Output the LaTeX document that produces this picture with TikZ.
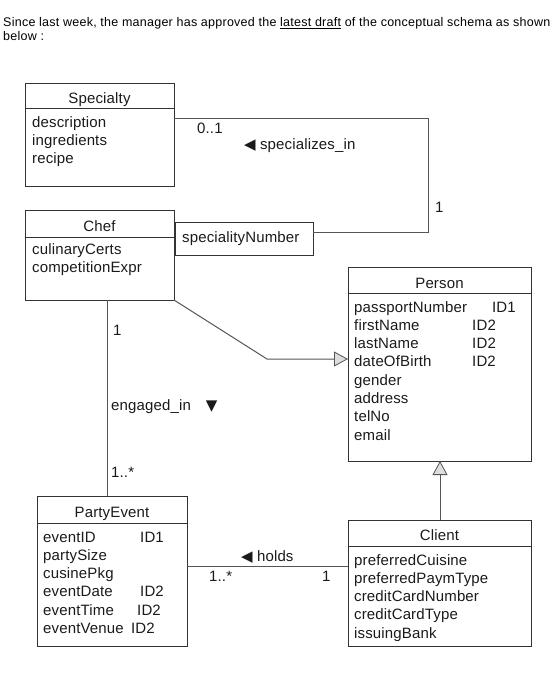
\documentclass[tikz,border=0pt]{standalone}
\usepackage{fontspec}
\setmainfont{Liberation Sans}
\newfontfamily\symfont{DejaVu Sans}
\usetikzlibrary{arrows.meta}
\definecolor{boxline}{HTML}{333333}
\definecolor{conline}{HTML}{555555}
\definecolor{txt}{HTML}{1A1A1A}
\definecolor{genfill}{HTML}{DDDDDD}
\newcommand{\sym}[1]{{\symfont\fontsize{15}{15}\selectfont #1}}
\newcommand{\dfont}{\fontsize{15}{18.3}\selectfont\addfontfeatures{LetterSpace=1}}
\begin{document}
\begin{tikzpicture}[x=1pt,y=-1pt,
  umlbox/.style={draw=boxline, line width=1pt, inner sep=0pt, outer sep=0pt, anchor=north west},
  divider/.style={draw=boxline, line width=1pt},
  ttl/.style={anchor=base, inner sep=0pt, font=\dfont, text=txt},
  attrs/.style={anchor=base west, inner sep=0pt, font=\dfont, text=txt},
  lbl/.style={anchor=base west, inner sep=0pt, font=\dfont, text=txt},
  assoc/.style={draw=conline, line width=1pt},
  gen/.style={draw=conline, line width=1pt, -{Triangle[fill=genfill, length=14pt, width=15pt, line width=0.8pt]}},
]
\useasboundingbox (0,0) rectangle (556,677);

% intro text
\node[anchor=base west, inner sep=0pt, font=\fontsize{12.5}{14}\selectfont\addfontfeatures{LetterSpace=2}, text=black] (intro) at (3,27)
  {\begin{tabular}[t]{@{}l@{}}Since last week, the manager has approved the \underline{latest draft} of the conceptual schema as shown\\below :\end{tabular}};

% connectors
\coordinate (spR) at (428,118);
\coordinate (spB) at (428,232);
\coordinate (enX) at (107,0);
\coordinate (hoY) at (0,566);
\coordinate (gBend) at (267,359);
\coordinate (gX) at (440,0);

% boxes
\node[umlbox, minimum width=149pt, minimum height=103pt] (specialty) at (25,83) {};
\node[umlbox, minimum width=149pt, minimum height=90pt] (chef) at (25,210) {};
\node[umlbox, minimum width=138pt, minimum height=33pt] (specnum) at (175,222) {};
\node[umlbox, minimum width=183pt, minimum height=194pt] (person) at (348,267) {};
\node[umlbox, minimum width=150pt, minimum height=150pt] (party) at (37,496) {};
\node[umlbox, minimum width=183pt, minimum height=126pt] (client) at (348,520) {};

\draw[divider] ([yshift=-25pt]specialty.north west) -- ([yshift=-25pt]specialty.north east);
\draw[divider] ([yshift=-27pt]chef.north west) -- ([yshift=-27pt]chef.north east);
\draw[divider] ([yshift=-26pt]person.north west) -- ([yshift=-26pt]person.north east);
\draw[divider] ([yshift=-27pt]party.north west) -- ([yshift=-27pt]party.north east);
\draw[divider] ([yshift=-26pt]client.north west) -- ([yshift=-26pt]client.north east);

\draw[assoc] (specialty.east |- spR) -- (spR) -- (spB) -- (specnum.east |- spB);
\draw[assoc] (chef.south -| enX) -- (party.north -| enX);
\draw[assoc] (party.east |- hoY) -- (client.west |- hoY);
\draw[gen] (chef.south east) -- (gBend) -- (person.west |- gBend);
\draw[gen] (client.north -| gX) -- (person.south -| gX);

% titles
\node[ttl] (specialtyT) at (99.5,103.5) {Specialty};
\node[ttl] (chefT) at (99.5,231) {Chef};
\node[ttl] (personT) at (439.5,288) {Person};
\node[ttl] (partyT) at (112,517) {PartyEvent};
\node[ttl] (clientT) at (439.5,540) {Client};

% attributes
\node[attrs] (specialtyA) at (32,127) {\begin{tabular}[t]{@{}l@{}}description\\ingredients\\recipe\end{tabular}};
\node[attrs] (chefA) at (32,254) {\begin{tabular}[t]{@{}l@{}}culinaryCerts\\competitionExpr\end{tabular}};
\node[attrs] (specnumA) at (182,242) {specialityNumber};
\node[attrs] (personA) at (354,312) {\begin{tabular}[t]{@{}l@{}}%
\makebox[138pt][l]{passportNumber}ID1\\
\makebox[118pt][l]{firstName}ID2\\
\makebox[118pt][l]{lastName}ID2\\
\makebox[118pt][l]{dateOfBirth}ID2\\
gender\\address\\telNo\\email\end{tabular}};
\node[attrs] (partyA) at (43,542) {\begin{tabular}[t]{@{}l@{}}%
\makebox[97pt][l]{eventID}ID1\\
partySize\\
cusinePkg\\
\makebox[97pt][l]{eventDate}ID2\\
\makebox[94pt][l]{eventTime}ID2\\
\makebox[88pt][l]{eventVenue}ID2\end{tabular}};
\node[attrs] (clientA) at (354,565) {\begin{tabular}[t]{@{}l@{}}preferredCuisine\\preferredPaymType\\creditCardNumber\\creditCardType\\issuingBank\end{tabular}};

% association labels
\node[lbl] (m01) at (197,133) {0..1};
\node[lbl] (specL) at (244,149) {\sym{◀} specializes\_in};
\node[lbl] (m1a) at (435,212) {1};
\node[lbl] (m1b) at (113,335) {1};
\node[lbl] (engL) at (111,410) {engaged\_in\hspace{15pt}\sym{▼}};
\node[lbl] (m1s) at (111,477) {1..*};
\node[lbl] (holdsL) at (241,561) {\sym{◀} holds};
\node[lbl] (m1s2) at (209,581) {1..*};
\node[lbl] (m1c) at (322,581) {1};
\end{tikzpicture}
\end{document}
